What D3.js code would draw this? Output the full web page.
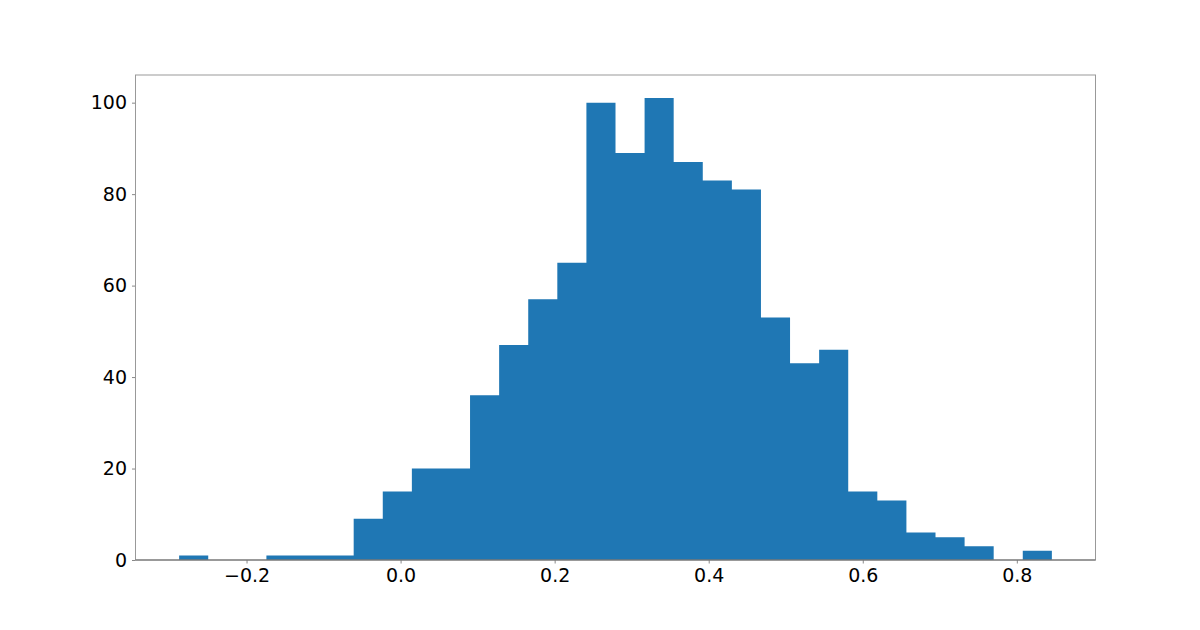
<!DOCTYPE html>
<html><head><meta charset="utf-8">
<script src="https://cdn.jsdelivr.net/npm/d3@7"></script>
<style>body{margin:0;background:#fff}svg{display:block}text{font-family:"DejaVu Sans",sans-serif}</style>
</head><body>
<svg id="c" width="1200" height="630"></svg>
<script>
const counts = [1,0,0,1,1,1,9,15,20,20,36,47,57,65,100,89,101,87,83,81,53,43,46,15,13,6,5,3,0,2];
const binRange = [-0.2875, 0.8455];
const xTicks = [-0.2, 0.0, 0.2, 0.4, 0.6, 0.8];
const yTicks = [0, 20, 40, 60, 80, 100];

const W = 1200, H = 630;
const L = 135.5, R = 1095.5, T = 75, B = 560;
const svg = d3.select("#c");
const span = binRange[1] - binRange[0];
const x = d3.scaleLinear().domain([binRange[0] - 0.05*span, binRange[1] + 0.05*span]).range([L, R]);
const maxC = d3.max(counts);
const y = d3.scaleLinear().domain([0, maxC*1.05]).range([B, T]);
const bw = span / counts.length;

const pts = counts.map((c, i) => ({e: binRange[0] + i*bw, c}));
pts.push({e: binRange[1], c: counts[counts.length-1]});
const area = d3.area().curve(d3.curveStepAfter)
  .x(d => x(d.e)).y0(B).y1(d => y(d.c));
svg.append("path").datum(pts).attr("d", area).attr("fill", "#1f77b4");

const fmt = d3.format(".1f");
const xa = d3.axisBottom(x).tickValues(xTicks).tickFormat(fmt).tickSize(3.5).tickPadding(5);
const gx = svg.append("g").attr("transform", `translate(0,${B})`).call(xa);
gx.select(".domain").remove();
gx.selectAll("line").attr("stroke", "#888");
gx.selectAll("text").attr("font-size", 19).attr("fill", "#000").attr("font-family", "DejaVu Sans");

const ya = d3.axisLeft(y).tickValues(yTicks).tickFormat(d3.format("d")).tickSize(3.5).tickPadding(5);
const gy = svg.append("g").attr("transform", `translate(${L},0)`).call(ya);
gy.select(".domain").remove();
gy.selectAll("line").attr("stroke", "#888");
gy.selectAll("text").attr("font-size", 19).attr("fill", "#000").attr("font-family", "DejaVu Sans");

svg.append("rect").attr("x", L).attr("y", T).attr("width", R-L).attr("height", B-T)
  .attr("fill", "none").attr("stroke", "#999").attr("stroke-width", 1);
svg.append("line").attr("x1", L).attr("x2", R).attr("y1", B).attr("y2", B).attr("stroke", "#666").attr("stroke-width", 1);
</script>
</body></html>
